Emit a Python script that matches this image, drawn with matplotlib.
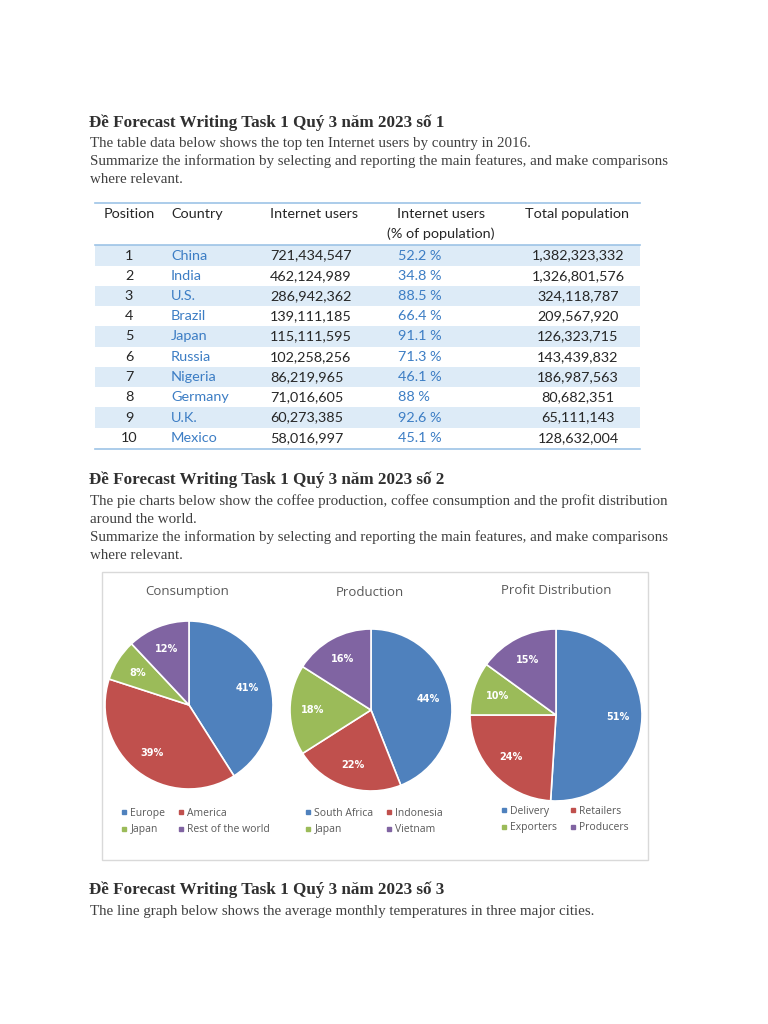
import matplotlib
matplotlib.use("Agg")
import matplotlib.pyplot as plt
from matplotlib.lines import Line2D

# ---- text of the page ----
headings = ["Đề Forecast Writing Task 1 Quý 3 năm 2023 số 1",
            "Đề Forecast Writing Task 1 Quý 3 năm 2023 số 2",
            "Đề Forecast Writing Task 1 Quý 3 năm 2023 số 3"]
body1 = ["The table data below shows the top ten Internet users by country in 2016.",
         "Summarize the information by selecting and reporting the main features, and make comparisons",
         "where relevant."]
body2 = ["The pie charts below show the coffee production, coffee consumption and the profit distribution",
         "around the world.",
         "Summarize the information by selecting and reporting the main features, and make comparisons",
         "where relevant."]
body3 = ["The line graph below shows the average monthly temperatures in three major cities."]

# ---- table data ----
positions = [1, 2, 3, 4, 5, 6, 7, 8, 9, 10]
countries = ["China", "India", "U.S.", "Brazil", "Japan", "Russia", "Nigeria", "Germany", "U.K.", "Mexico"]
internet_users = ["721,434,547", "462,124,989", "286,942,362", "139,111,185", "115,111,595",
                  "102,258,256", "86,219,965", "71,016,605", "60,273,385", "58,016,997"]
pct_users = ["52.2 %", "34.8 %", "88.5 %", "66.4 %", "91.1 %", "71.3 %", "46.1 %", "88 %", "92.6 %", "45.1 %"]
total_pop = ["1,382,323,332", "1,326,801,576", "324,118,787", "209,567,920", "126,323,715",
             "143,439,832", "186,987,563", "80,682,351", "65,111,143", "128,632,004"]

# ---- pie data ----
pie_titles = ["Consumption", "Production", "Profit Distribution"]
pie_labels = [["Europe", "America", "Japan", "Rest of the world"],
              ["South Africa", "Indonesia", "Japan", "Vietnam"],
              ["Delivery", "Retailers", "Exporters", "Producers"]]
pie_values = [[41, 39, 8, 12],
              [44, 22, 18, 16],
              [51, 24, 10, 15]]
pie_colors = ["#4F81BD", "#C0504D", "#9BBB59", "#8064A2"]

W, H = 768, 1024
fig = plt.figure(figsize=(W / 100, H / 100), dpi=100)
fig.patch.set_facecolor("white")
page = fig.add_axes([0, 0, 1, 1])
page.set_xlim(0, W)
page.set_ylim(H, 0)
page.axis("off")

serif = "Liberation Serif"
head_col = "#303030"
body_col = "#404040"


def para(y0, lines, step=18.2):
    for i, ln in enumerate(lines):
        page.text(90, y0 + i * step, ln, family=serif, fontsize=10.8, color=body_col, va="center")


page.text(89, 123, headings[0], family=serif, fontsize=12.3, fontweight="bold", color=head_col, va="center")
para(143, body1)
page.text(89, 480, headings[1], family=serif, fontsize=12.3, fontweight="bold", color=head_col, va="center")
para(501, body2)
page.text(89, 890, headings[2], family=serif, fontsize=12.3, fontweight="bold", color=head_col, va="center")
para(912, body3)

# ---- table ----
tf = "Lato"
tsize = 10.4
dark = "#262626"
blue_txt = "#3C7DC4"
line_col = "#9DC3E6"
stripe = "#DDEBF7"
x0, x1 = 95, 640
page.plot([x0, x1], [203, 203], color=line_col, lw=1.2)
page.plot([x0, x1], [245, 245], color=line_col, lw=1.2)
page.text(129, 214, "Position", family=tf, fontsize=tsize, color=dark, ha="center", va="center")
page.text(171, 214, "Country", family=tf, fontsize=tsize, color=dark, ha="left", va="center")
page.text(314, 214, "Internet users", family=tf, fontsize=tsize, color=dark, ha="center", va="center")
page.text(441, 214, "Internet users", family=tf, fontsize=tsize, color=dark, ha="center", va="center")
page.text(441, 234, "(% of population)", family=tf, fontsize=tsize, color=dark, ha="center", va="center")
page.text(577, 214, "Total population", family=tf, fontsize=tsize, color=dark, ha="center", va="center")

row_h = 20.25
for i in range(len(positions)):
    yc = 255.5 + i * row_h
    if i % 2 == 0:
        page.fill_between([x0, x1], yc - row_h / 2, yc + row_h / 2, color=stripe, lw=0)
    page.text(129, yc, str(positions[i]), family=tf, fontsize=tsize, color=dark, ha="center", va="center")
    page.text(171, yc, countries[i], family=tf, fontsize=tsize, color=blue_txt, ha="left", va="center")
    page.text(270, yc, internet_users[i], family=tf, fontsize=tsize, color=dark, ha="left", va="center")
    page.text(398, yc, pct_users[i], family=tf, fontsize=tsize, color=blue_txt, ha="left", va="center")
    page.text(578, yc, total_pop[i], family=tf, fontsize=tsize, color=dark, ha="center", va="center")
page.plot([x0, x1], [449, 449], color=line_col, lw=1.2)

# ---- pie chart panel ----
page.add_patch(plt.Rectangle((102, 572), 546, 288, fill=False, ec="#D9D9D9", lw=1))

centers = [(189, 705, 84), (371, 710, 81), (556, 715, 86)]
title_pos = [(187, 591), (370, 592), (556, 590)]
leg_pos = [(121, 808), (305, 808), (501, 806)]
for k in range(3):
    cx, cy, r = centers[k]
    ax = fig.add_axes([(cx - r) / W, 1 - (cy + r) / H, 2 * r / W, 2 * r / H])
    wedges, _, autotexts = ax.pie(pie_values[k], colors=pie_colors, startangle=90, counterclock=False,
                                  autopct="%d%%", pctdistance=0.72, radius=1,
                                  wedgeprops=dict(edgecolor="white", linewidth=1.2),
                                  textprops=dict(color="white", fontsize=7, fontweight="bold", family="DejaVu Sans"))
    ax.set_xlim(-1, 1)
    ax.set_ylim(-1, 1)
    ax.set_aspect("auto")
    tx, ty = title_pos[k]
    page.text(tx, ty, pie_titles[k], family="Open Sans", fontsize=9.5, color="#595959", ha="center", va="center")
    handles = [Line2D([], [], marker="s", ls="", ms=3.5, color=c) for c in pie_colors]
    order = [0, 2, 1, 3]
    lx, ly = leg_pos[k]
    fig.legend([handles[j] for j in order], [pie_labels[k][j] for j in order], ncol=2,
               loc="upper left", bbox_to_anchor=(lx / W, 1 - ly / H), frameon=False,
               prop=dict(family="Open Sans", size=7.5), labelcolor="#595959",
               handlelength=0.6, handletextpad=0.3, columnspacing=1.2, labelspacing=0.5,
               borderpad=0, borderaxespad=0)

fig.savefig("out.png", dpi=100)
